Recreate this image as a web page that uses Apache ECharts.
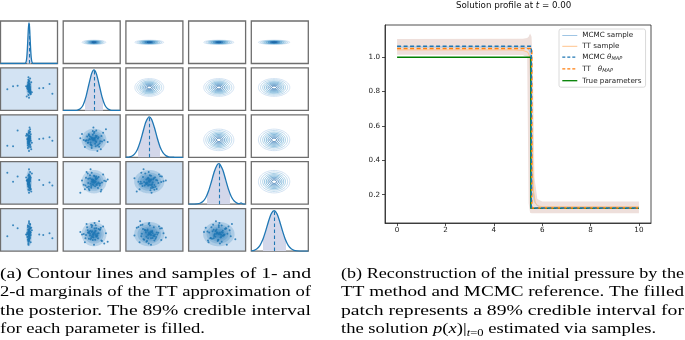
<!DOCTYPE html>
<html>
<head>
<meta charset="utf-8">
<script src="https://cdn.jsdelivr.net/npm/echarts@6/dist/echarts.min.js"></script>
<style>
  html, body { margin: 0; padding: 0; background: #fff; }
  #chart { width: 685px; height: 340px; }
</style>
</head>
<body>
<div id="chart"></div>
<script>
// ---------- (a) corner plot ----------
var paramMean = [0.50, 0.54, 0.41, 0.53, 0.40];
var paramStd = [0.022, 0.095, 0.115, 0.12, 0.125];
var credible89 = [[0.467, 0.533], [0.39, 0.69], [0.215, 0.595], [0.33, 0.73], [0.20, 0.61]];

// 1-d marginal densities (x, density / peak)
var marg1 = [[0,0],[0.42,0],[0.43,0.002],[0.44,0.011],[0.45,0.044],[0.46,0.135],[0.47,0.325],[0.48,0.607],[0.49,0.882],[0.50,1.0],[0.51,0.882],[0.52,0.607],[0.53,0.325],[0.54,0.135],[0.55,0.044],[0.56,0.011],[0.57,0.002],[0.58,0],[1,0]];
var marg2 = [[0,0],[0.15,0.0002],[0.20,0.0016],[0.25,0.0096],[0.30,0.041],[0.35,0.135],[0.40,0.34],[0.45,0.64],[0.50,0.915],[0.54,1.0],[0.58,0.915],[0.63,0.64],[0.68,0.34],[0.73,0.135],[0.78,0.041],[0.83,0.0096],[0.88,0.0016],[0.93,0.0002],[1,0]];
var marg3 = [[0,0.002],[0.05,0.007],[0.10,0.026],[0.15,0.078],[0.20,0.188],[0.25,0.38],[0.30,0.63],[0.35,0.873],[0.41,1.0],[0.45,0.941],[0.50,0.736],[0.55,0.477],[0.60,0.255],[0.65,0.113],[0.70,0.042],[0.75,0.0125],[0.80,0.003],[0.85,0.0006],[0.90,0],[1,0]];
var marg4 = [[0,0],[0.10,0.0016],[0.15,0.0066],[0.20,0.023],[0.25,0.066],[0.30,0.159],[0.35,0.325],[0.40,0.556],[0.45,0.80],[0.50,0.969],[0.53,1.0],[0.55,0.986],[0.60,0.844],[0.65,0.607],[0.70,0.367],[0.75,0.186],[0.80,0.079],[0.85,0.028],[0.89,0.012],[0.92,0.035],[0.95,0.006],[1,0]];
var marg5 = [[0,0.006],[0.05,0.02],[0.10,0.056],[0.15,0.135],[0.20,0.278],[0.25,0.487],[0.30,0.726],[0.35,0.923],[0.40,1.0],[0.45,0.923],[0.50,0.726],[0.55,0.487],[0.60,0.278],[0.65,0.135],[0.70,0.056],[0.75,0.02],[0.80,0.006],[0.85,0.0015],[0.90,0],[1,0]];

// posterior samples
var theta1 = [0.50,0.51,0.49,0.52,0.48,0.50,0.53,0.47,0.51,0.49,
              0.50,0.52,0.48,0.51,0.50,0.46,0.54,0.49,0.50,0.51,
              0.48,0.52,0.50,0.49,0.53,0.50,0.47,0.51,0.50,0.52,
              0.49,0.50,0.48,0.51,0.55,0.50,0.49,0.52,0.45,0.50,
              0.51,0.49,0.50,0.48,0.52,0.50,0.51,0.49,0.53,0.50,
              0.12,0.86,0.91,0.30,0.68,0.50,0.49,0.51,0.22,0.75];
var theta2 = [0.53,0.62,0.45,0.50,0.58,0.70,0.38,0.55,0.47,0.64,
              0.52,0.41,0.60,0.49,0.57,0.33,0.66,0.54,0.44,0.59,
              0.51,0.75,0.48,0.56,0.40,0.63,0.52,0.46,0.68,0.55,
              0.36,0.58,0.50,0.61,0.43,0.54,0.72,0.49,0.57,0.30,
              0.53,0.65,0.47,0.56,0.42,0.60,0.51,0.78,0.45,0.55,
              0.50,0.62,0.39,0.58,0.52,0.48,0.67,0.44,0.57,0.53];
var theta3 = [0.41,0.30,0.52,0.45,0.36,0.58,0.24,0.43,0.49,0.33,
              0.62,0.40,0.28,0.47,0.38,0.55,0.19,0.44,0.35,0.50,
              0.42,0.66,0.31,0.46,0.39,0.25,0.53,0.43,0.37,0.60,
              0.41,0.48,0.22,0.44,0.34,0.57,0.40,0.29,0.51,0.45,
              0.70,0.38,0.42,0.32,0.49,0.15,0.46,0.36,0.54,0.41,
              0.27,0.47,0.39,0.63,0.43,0.35,0.50,0.40,0.26,0.44];
var theta4 = [0.53,0.64,0.41,0.58,0.47,0.70,0.35,0.55,0.61,0.44,
              0.52,0.76,0.49,0.39,0.60,0.56,0.30,0.67,0.50,0.45,
              0.58,0.54,0.82,0.42,0.62,0.48,0.57,0.33,0.51,0.66,
              0.46,0.59,0.53,0.38,0.72,0.50,0.55,0.43,0.63,0.27,
              0.56,0.49,0.68,0.52,0.40,0.61,0.47,0.58,0.36,0.54,
              0.74,0.51,0.44,0.65,0.57,0.48,0.34,0.60,0.53,0.45];
var theta5 = [0.40,0.52,0.29,0.45,0.34,0.58,0.21,0.43,0.37,0.50,
              0.26,0.64,0.41,0.31,0.48,0.39,0.55,0.15,0.44,0.35,
              0.60,0.42,0.28,0.47,0.38,0.70,0.33,0.46,0.24,0.53,
              0.40,0.36,0.57,0.30,0.49,0.43,0.18,0.62,0.39,0.45,
              0.32,0.51,0.41,0.27,0.56,0.37,0.47,0.22,0.44,0.66,
              0.35,0.42,0.30,0.54,0.39,0.48,0.25,0.43,0.61,0.38];

// contour levels (in std units), outer to inner
var contourLevels = [2.2, 1.9, 1.6, 1.35, 1.1, 0.85, 0.6, 0.35];
var kdeLevels = [2.3, 1.8, 1.4, 1.05, 0.75, 0.5, 0.28];

// ---------- (b) solution profile ----------
var xTicks = [0, 2, 4, 6, 8, 10];
var yTicks = [0.2, 0.4, 0.6, 0.8, 1.0];
var bandX     = [0, 5.2, 5.38, 5.44, 5.5, 5.56, 5.62, 5.68, 5.8, 6.0, 10];
var bandUpper = [1.107, 1.108, 1.112, 1.12, 1.138, 1.12, 0.9, 0.3, 0.175, 0.16, 0.16];
var bandLower = [1.015, 1.013, 1.0, 0.15, 0.095, 0.092, 0.092, 0.092, 0.092, 0.092, 0.092];
var mcmcSampleX = [0, 5.0, 5.3, 5.42, 5.5, 5.55, 5.6, 5.68, 5.8, 6.0, 10];
var mcmcSampleY = [1.06, 1.06, 1.058, 1.05, 1.03, 0.6, 0.25, 0.16, 0.135, 0.128, 0.128];
var ttSampleX = [0, 4.8, 5.2, 5.4, 5.5, 5.58, 5.64, 5.72, 5.85, 6.05, 10];
var ttSampleY = [1.043, 1.043, 1.04, 1.03, 1.0, 0.5, 0.22, 0.15, 0.133, 0.13, 0.13];
var mcmcMapX = [0, 5.55, 5.55, 10];
var mcmcMapY = [1.064, 1.064, 0.122, 0.122];
var ttMapX = [0, 5.57, 5.57, 10];
var ttMapY = [1.051, 1.051, 0.122, 0.122];
var trueX = [0, 5.53, 5.53, 10];
var trueY = [1.0, 1.0, 0.12, 0.12];

var captionA = ['(a) Contour lines and samples of 1- and',
                '2-d marginals of the TT approximation of',
                'the posterior. The 89% credible interval',
                'for each parameter is filled.'];
var captionB = ['(b) Reconstruction of the initial pressure by the',
                'TT method and MCMC reference. The filled',
                'patch represents a 89% credible interval for'];

var samples = [theta1, theta2, theta3, theta4, theta5];
var margs = [marg1, marg2, marg3, marg4, marg5];
var contourColors = ['#c6dbef', '#afd1e8', '#94c4df', '#74b1d8', '#549fcd', '#3a88c0', '#2270b2', '#0d5a9e'];

function zip(xs, ys) { return xs.map(function (x, k) { return [x, ys[k]]; }); }

function ellipsePoints(api, mx, my, rx, ry) {
  var pts = [];
  for (var a = 0; a <= 60; a++) {
    var t = a / 60 * Math.PI * 2;
    pts.push(api.coord([mx + rx * Math.cos(t), my + ry * Math.sin(t)]));
  }
  return pts;
}

var chart = echarts.init(document.getElementById('chart'));
var grids = [], xAxes = [], yAxes = [], series = [], visualMaps = [];

for (let i = 0; i < 5; i++) {
  for (let j = 0; j < 5; j++) {
    let g = grids.length;
    let bg = '#fff';
    if (i > j) bg = (j === 1 && i >= 3) ? '#e4eef8' : '#d3e3f3';
    grids.push({left: 0.5 + j * 62.7, top: 21 + i * 46.9, width: 57, height: 42.5,
      show: true, backgroundColor: bg, borderColor: '#6e6e6e', borderWidth: 1.3});
    xAxes.push({gridIndex: g, type: 'value', min: 0, max: 1, show: false});
    yAxes.push({gridIndex: g, type: 'value', min: 0, max: i === j ? 1.05 : 1, show: false});

    if (i === j) {
      // filled 89% credible interval
      visualMaps.push({type: 'piecewise', show: false, dimension: 0, seriesIndex: series.length,
        pieces: [{gte: credible89[i][0], lte: credible89[i][1], color: '#d3d7ea'}],
        outOfRange: {color: 'rgba(255,255,255,0)'}});
      series.push({type: 'line', xAxisIndex: g, yAxisIndex: g, data: margs[i], smooth: 0.25,
        symbol: 'none', silent: true, lineStyle: {opacity: 0}, areaStyle: {opacity: 1}, z: 1});
      series.push({type: 'line', xAxisIndex: g, yAxisIndex: g, data: margs[i], smooth: 0.25,
        symbol: 'none', silent: true, lineStyle: {color: '#1f77b4', width: 1.3}, z: 3,
        markLine: {silent: true, symbol: 'none', label: {show: false}, animation: false,
          lineStyle: {color: '#1f77b4', type: [3.5, 2.5], width: 1.1},
          data: [[{coord: [paramMean[i], 0]}, {coord: [paramMean[i], 1]}]]}});
    } else if (i < j) {
      let mx = paramMean[j], my = paramMean[i], sx = paramStd[j], sy = paramStd[i];
      series.push({type: 'custom', xAxisIndex: g, yAxisIndex: g, clip: true, silent: true,
        data: contourLevels.map(function (l, k) { return [l, k]; }),
        renderItem: function (params, api) {
          var l = api.value(0), k = api.value(1);
          return {type: 'polygon', shape: {points: ellipsePoints(api, mx, my, l * sx, l * sy)},
            style: {fill: 'none', stroke: contourColors[k], lineWidth: 0.8}};
        }});
    } else {
      let mx = paramMean[j], my = paramMean[i], sx = paramStd[j], sy = paramStd[i];
      series.push({type: 'custom', xAxisIndex: g, yAxisIndex: g, clip: true, silent: true,
        data: kdeLevels.map(function (l) { return [l, 0]; }),
        renderItem: function (params, api) {
          var l = api.value(0);
          return {type: 'polygon', shape: {points: ellipsePoints(api, mx, my, l * sx, l * sy)},
            style: {fill: 'rgba(31,119,180,0.22)', stroke: 'none'}};
        }});
      series.push({type: 'scatter', xAxisIndex: g, yAxisIndex: g, silent: true, symbolSize: 2,
        itemStyle: {color: '#1f77b4', opacity: 0.85},
        data: zip(samples[j], samples[i])});
    }
  }
}

// (b) grid
var gB = grids.length;
grids.push({left: 385, top: 25, width: 266, height: 198, show: true,
  backgroundColor: '#fff', borderColor: '#222', borderWidth: 0.8});
var axisFont = {fontSize: 7.2, fontFamily: 'DejaVu Sans', color: '#222'};
xAxes.push({gridIndex: gB, type: 'value', min: -0.5, max: 10.5,
  axisLine: {show: true, onZero: false, lineStyle: {color: '#222', width: 0.8}},
  axisTick: {show: true, length: 3, customValues: xTicks, lineStyle: {color: '#222', width: 0.8}},
  axisLabel: Object.assign({customValues: xTicks, margin: 4}, axisFont),
  splitLine: {show: false}});
yAxes.push({gridIndex: gB, type: 'value', min: 0.035, max: 1.188,
  axisLine: {show: true, onZero: false, lineStyle: {color: '#222', width: 0.8}},
  axisTick: {show: true, length: 3, customValues: yTicks, lineStyle: {color: '#222', width: 0.8}},
  axisLabel: Object.assign({customValues: yTicks, margin: 5,
    formatter: function (v) { return v.toFixed(1); }}, axisFont),
  splitLine: {show: false}});

series.push({type: 'custom', xAxisIndex: gB, yAxisIndex: gB, silent: true, z: 1, data: [[0, 0]],
  renderItem: function (params, api) {
    var pts = [];
    for (var k = 0; k < bandX.length; k++) pts.push(api.coord([bandX[k], bandUpper[k]]));
    for (var k2 = bandX.length - 1; k2 >= 0; k2--) pts.push(api.coord([bandX[k2], bandLower[k2]]));
    return {type: 'polygon', shape: {points: pts}, style: {fill: '#eedfdb'}};
  }});
series.push({name: 'MCMC sample', type: 'line', xAxisIndex: gB, yAxisIndex: gB, symbol: 'none',
  data: zip(mcmcSampleX, mcmcSampleY), lineStyle: {color: '#9fc5e4', width: 1}, itemStyle: {color: '#9fc5e4'}, z: 2});
series.push({name: 'TT sample', type: 'line', xAxisIndex: gB, yAxisIndex: gB, symbol: 'none',
  data: zip(ttSampleX, ttSampleY), lineStyle: {color: '#ffc38c', width: 1}, itemStyle: {color: '#ffc38c'}, z: 2});
series.push({name: 'True parameters', type: 'line', xAxisIndex: gB, yAxisIndex: gB, symbol: 'none',
  data: zip(trueX, trueY), lineStyle: {color: '#008000', width: 1.4}, itemStyle: {color: '#008000'}, z: 3});
series.push({name: 'TT θMAP', type: 'line', xAxisIndex: gB, yAxisIndex: gB, symbol: 'none',
  data: zip(ttMapX, ttMapY), lineStyle: {color: '#ff7f0e', width: 1.5, type: [4, 2.5]}, itemStyle: {color: '#ff7f0e'}, z: 4});
series.push({name: 'MCMC θMAP', type: 'line', xAxisIndex: gB, yAxisIndex: gB, symbol: 'none',
  data: zip(mcmcMapX, mcmcMapY), lineStyle: {color: '#1f77b4', width: 1.5, type: [4, 2.5]}, itemStyle: {color: '#1f77b4'}, z: 4});

// captions
var measureCtx = document.createElement('canvas').getContext('2d');
var capSize = 15.5, capFamily = 'Liberation Serif', capStretch = 1.2;
function captionLine(str, x, y, width) {
  measureCtx.font = capSize + 'px "' + capFamily + '"';
  var sx = width ? width / measureCtx.measureText(str).width : capStretch;
  return {type: 'text', x: x, y: y, scaleX: sx, silent: true,
    style: {text: str, fontSize: capSize, fontFamily: capFamily, fill: '#000', verticalAlign: 'middle'}};
}
var lineY = [274, 292.3, 310.6, 329];
var graphics = [];
captionA.forEach(function (s, k) { graphics.push(captionLine(s, 0, lineY[k], k < 3 ? 311 : 0)); });
captionB.forEach(function (s, k) { graphics.push(captionLine(s, 341, lineY[k], 343)); });
graphics.push({type: 'text', x: 341, y: lineY[3], scaleX: capStretch, silent: true,
  style: {text: '{n|the solution }{i|p}{n|(}{i|x}{n|)|}{s|t}{sn|=0}{n| estimated via samples.}',
    verticalAlign: 'middle', fill: '#000',
    rich: {
      n: {fontSize: capSize, fontFamily: capFamily},
      i: {fontSize: capSize, fontFamily: capFamily, fontStyle: 'italic'},
      s: {fontSize: 10.5, fontFamily: capFamily, fontStyle: 'italic', padding: [9, 0, 0, 0]},
      sn: {fontSize: 10.5, fontFamily: capFamily, padding: [9, 0, 0, 0]}
    }}});

var legendItems = [
  {name: 'MCMC sample', lineStyle: {color: '#9fc5e4', width: 1}},
  {name: 'TT sample', lineStyle: {color: '#ffc38c', width: 1}},
  {name: 'MCMC θMAP', lineStyle: {color: '#1f77b4', width: 1.4, type: [3, 2]}},
  {name: 'TT θMAP', lineStyle: {color: '#ff7f0e', width: 1.4, type: [3, 2]}},
  {name: 'True parameters', lineStyle: {color: '#008000', width: 1.3}}
];

chart.setOption({
  animation: false,
  title: {text: '{n|Solution profile at }{i|t}{n| = 0.00}', left: 456, top: 1, padding: 0,
    textStyle: {fontWeight: 'normal', rich: {
      n: {fontSize: 8.7, fontFamily: 'DejaVu Sans', fontWeight: 'normal', color: '#111'},
      i: {fontSize: 8.7, fontFamily: 'DejaVu Sans', fontWeight: 'normal', fontStyle: 'italic', color: '#111'}}}},
  legend: {orient: 'vertical', left: 559, top: 29, data: legendItems, selectedMode: false,
    itemWidth: 15, itemHeight: 7, itemGap: 3.8, padding: [3, 4, 3, 2.6],
    itemStyle: {opacity: 0},
    borderColor: '#d0d0d0', borderWidth: 0.8, borderRadius: 2, backgroundColor: 'rgba(255,255,255,0.85)',
    textStyle: {fontSize: 7.2, fontFamily: 'DejaVu Sans', color: '#222',
      rich: {
        th: {fontSize: 7.2, fontFamily: 'DejaVu Sans', fontStyle: 'italic', color: '#222'},
        sub: {fontSize: 5, fontFamily: 'DejaVu Sans', fontStyle: 'italic', color: '#222', padding: [4, 0, 0, 0]}
      }},
    formatter: function (name) {
      if (name === 'MCMC θMAP') return 'MCMC {th|θ}{sub|MAP}';
      if (name === 'TT θMAP') return 'TT   {th|θ}{sub|MAP}';
      return name;
    }},
  grid: grids,
  xAxis: xAxes,
  yAxis: yAxes,
  visualMap: visualMaps,
  series: series,
  graphic: graphics
});
</script>
</body>
</html>
